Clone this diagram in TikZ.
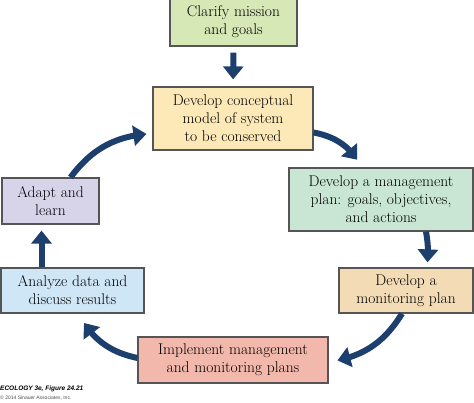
\documentclass[tikz,border=0pt]{standalone}
\usepackage{fontspec}
\newfontfamily\capfont{Liberation Sans}
\usetikzlibrary{arrows.meta,bending}

\definecolor{navy}{HTML}{1D3F6D}
\definecolor{boxline}{HTML}{555555}
\definecolor{cgreen}{HTML}{D5E8B5}
\definecolor{cyellow}{HTML}{FDE8B8}
\definecolor{cteal}{HTML}{C8E6D3}
\definecolor{ctan}{HTML}{F3DCB5}
\definecolor{csalmon}{HTML}{F2B8AB}
\definecolor{cblue}{HTML}{CFE6F7}
\definecolor{clavender}{HTML}{D7D4EA}

\tikzset{
  stepbox/.style={draw=boxline, line width=1.2pt, align=center, inner sep=0pt,
    font=\fontsize{15.5}{18}\selectfont},
  cyclearrow/.style={draw=navy, line width=6pt,
    -{Triangle[width=20pt,length=13pt,flex]}}
}

\begin{document}
\begin{tikzpicture}[x=1pt,y=1pt]
\useasboundingbox (0,0) rectangle (474,403);

\node[stepbox, fill=cgreen, minimum width=127pt, minimum height=49pt] (clarify) at (233.5,381.5)
  {Clarify mission\\and goals};
\node[stepbox, fill=cyellow, minimum width=160pt, minimum height=63pt] (model) at (233,284.5)
  {Develop conceptual\\model of system\\to be conserved};
\node[stepbox, fill=cteal, minimum width=184pt, minimum height=63pt] (mgmt) at (381,203.5)
  {Develop a management\\plan: goals, objectives,\\and actions};
\node[stepbox, fill=ctan, minimum width=134pt, minimum height=45pt] (monitor) at (406,112.5)
  {Develop a\\monitoring plan};
\node[stepbox, fill=csalmon, minimum width=190pt, minimum height=46pt] (impl) at (233,43)
  {Implement management\\and monitoring plans};
\node[stepbox, fill=cblue, minimum width=143pt, minimum height=45pt] (analyze) at (72.5,112.5)
  {Analyze data and\\discuss results};
\node[stepbox, fill=clavender, minimum width=97pt, minimum height=46pt] (adapt) at (50.5,202)
  {Adapt and\\learn};

% arrows of the cycle
\draw[cyclearrow, shorten <=6pt, shorten >=7pt] (clarify.south) -- (model.north);
\draw[cyclearrow, shorten >=9pt] ([yshift=-14pt]model.east) to[bend left=25] ([xshift=-19pt]mgmt.north);
\draw[cyclearrow, shorten >=5pt] ([xshift=45pt]mgmt.south) to[bend left=8] ([xshift=21pt]monitor.north);
\draw[cyclearrow, shorten >=9pt] ([xshift=-4pt]monitor.south) to[bend left=25] ([yshift=-2pt]impl.east);
\draw[cyclearrow, shorten >=11pt] ([yshift=2pt]impl.west) to[bend left=25] ([xshift=6pt]analyze.south);
\draw[cyclearrow, shorten >=6pt] ([xshift=-31pt]analyze.north) -- ([xshift=-9pt]adapt.south);
\draw[cyclearrow, shorten >=6pt] ([xshift=20pt]adapt.north) to[bend left=25] ([yshift=-15pt]model.west);

% source line
\node[anchor=base west, inner sep=0pt, font=\capfont\bfseries\itshape\fontsize{6.5}{7}\selectfont] (source) at (0,12)
  {ECOLOGY 3e, Figure 24.21};
\node[anchor=base west, inner sep=0pt, font=\capfont\fontsize{5}{6}\selectfont, text=black!70] (rights) at (0,3)
  {\textcopyright{} 2014 Sinauer Associates, Inc.};
\end{tikzpicture}
\end{document}
